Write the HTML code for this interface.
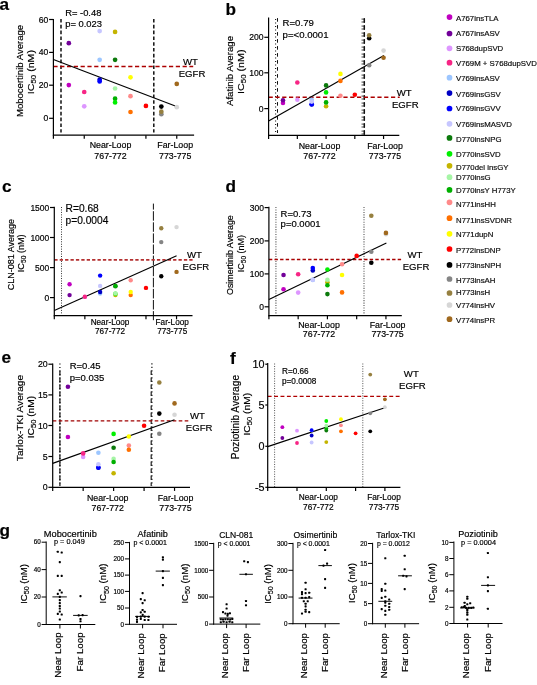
<!DOCTYPE html>
<html lang="en"><head><meta charset="utf-8"><title>Figure</title>
<style>
html,body{margin:0;padding:0;background:#fff;}
body{width:537px;height:685px;overflow:hidden;}
svg{display:block;}
svg text{font-family:"Liberation Sans",Arial,Helvetica,sans-serif;stroke:#000;stroke-width:0.18px;}
</style></head><body>
<svg width="537" height="685" viewBox="0 0 537 685">
<rect x="0" y="0" width="537" height="685" fill="#fff"/>
<g>
<line x1="61.00" y1="19.00" x2="61.00" y2="132.50" stroke="#111" stroke-width="1.5" stroke-dasharray="3.6 2.2" />
<line x1="153.80" y1="19.00" x2="153.80" y2="132.50" stroke="#111" stroke-width="1.5" stroke-dasharray="3.6 2.2" />
<line x1="53.40" y1="66.50" x2="193.20" y2="66.50" stroke="#AC0000" stroke-width="1.35" stroke-dasharray="4.2 2.6" />
<line x1="53.40" y1="59.50" x2="175.30" y2="106.00" stroke="#000" stroke-width="1.15" />
<circle cx="68.82" cy="85.10" r="2.35" fill="#C000C0"/>
<circle cx="68.82" cy="43.20" r="2.35" fill="#720099"/>
<circle cx="84.24" cy="92.00" r="2.35" fill="#F72585"/>
<circle cx="84.24" cy="106.30" r="2.35" fill="#DD96FF"/>
<circle cx="99.66" cy="31.10" r="2.35" fill="#C6C6FF"/>
<circle cx="99.66" cy="59.80" r="2.35" fill="#9CC6FF"/>
<circle cx="99.66" cy="79.70" r="2.35" fill="#0000C4"/>
<circle cx="99.66" cy="81.40" r="2.35" fill="#0000FF"/>
<circle cx="115.08" cy="31.90" r="2.35" fill="#C4B400"/>
<circle cx="115.08" cy="59.80" r="2.35" fill="#0C7A0C"/>
<circle cx="115.08" cy="88.50" r="2.35" fill="#A6F5A6"/>
<circle cx="115.08" cy="98.70" r="2.35" fill="#00B000"/>
<circle cx="115.08" cy="102.40" r="2.35" fill="#00F000"/>
<circle cx="130.50" cy="77.30" r="2.35" fill="#FFFF00"/>
<circle cx="130.50" cy="96.20" r="2.35" fill="#FF8A8A"/>
<circle cx="130.50" cy="112.00" r="2.35" fill="#FF7000"/>
<circle cx="145.92" cy="105.90" r="2.35" fill="#FF0000"/>
<circle cx="161.34" cy="114.20" r="2.35" fill="#858585"/>
<circle cx="161.34" cy="111.70" r="2.35" fill="#968040"/>
<circle cx="161.34" cy="106.60" r="2.35" fill="#000000"/>
<circle cx="176.76" cy="83.90" r="2.35" fill="#A0691E"/>
<circle cx="176.76" cy="107.20" r="2.35" fill="#D6D6D6"/>
<line x1="53.40" y1="19.00" x2="53.40" y2="135.70" stroke="#000" stroke-width="1.2" />
<line x1="52.90" y1="135.20" x2="194.10" y2="135.20" stroke="#000" stroke-width="1.2" />
<line x1="53.40" y1="135.20" x2="53.40" y2="138.80" stroke="#000" stroke-width="1.2" />
<line x1="84.24" y1="135.20" x2="84.24" y2="138.80" stroke="#000" stroke-width="1.2" />
<line x1="115.08" y1="135.20" x2="115.08" y2="138.80" stroke="#000" stroke-width="1.2" />
<line x1="145.92" y1="135.20" x2="145.92" y2="138.80" stroke="#000" stroke-width="1.2" />
<line x1="176.76" y1="135.20" x2="176.76" y2="138.80" stroke="#000" stroke-width="1.2" />
<line x1="49.10" y1="19.50" x2="53.40" y2="19.50" stroke="#000" stroke-width="1.2" />
<text x="48.40" y="22.58" font-size="8.6" text-anchor="end" fill="#000" >60</text>
<line x1="49.10" y1="52.40" x2="53.40" y2="52.40" stroke="#000" stroke-width="1.2" />
<text x="48.40" y="55.48" font-size="8.6" text-anchor="end" fill="#000" >40</text>
<line x1="49.10" y1="85.20" x2="53.40" y2="85.20" stroke="#000" stroke-width="1.2" />
<text x="48.40" y="88.28" font-size="8.6" text-anchor="end" fill="#000" >20</text>
<line x1="49.10" y1="118.30" x2="53.40" y2="118.30" stroke="#000" stroke-width="1.2" />
<text x="48.40" y="121.38" font-size="8.6" text-anchor="end" fill="#000" >0</text>
<text x="110.50" y="148.30" font-size="8.8" text-anchor="middle" fill="#000" >Near-Loop</text>
<text x="110.50" y="158.70" font-size="8.8" text-anchor="middle" fill="#000" >767-772</text>
<text x="175.20" y="148.30" font-size="8.8" text-anchor="middle" fill="#000" >Far-Loop</text>
<text x="175.20" y="158.70" font-size="8.8" text-anchor="middle" fill="#000" >773-775</text>
<text x="190.50" y="65.00" font-size="9.6" text-anchor="middle" fill="#000" >WT</text>
<text x="192.00" y="76.90" font-size="9.6" text-anchor="middle" fill="#000" >EGFR</text>
<text x="65.20" y="16.00" font-size="9.4" text-anchor="start" fill="#000" >R= -0.48</text>
<text x="65.20" y="26.60" font-size="9.4" text-anchor="start" fill="#000" >p= 0.023</text>
<text x="23.20" y="71.00" font-size="9.5" text-anchor="middle" fill="#000" textLength="92.10" lengthAdjust="spacingAndGlyphs" transform="rotate(-90 23.20 71.00)" >Mobocertinib Average</text>
<text x="33.90" y="72.10" font-size="9.5" text-anchor="middle" fill="#000" textLength="44.20" lengthAdjust="spacingAndGlyphs" transform="rotate(-90 33.90 72.10)" >IC<tspan font-size="74%" dy="2.2">50</tspan><tspan dy="-2.2"> (nM)</tspan></text>
<text x="-0.40" y="9.60" font-size="17.2" text-anchor="start" fill="#000" font-weight="bold" >a</text>
</g>
<g>
<line x1="275.60" y1="18.90" x2="275.60" y2="133.00" stroke="#111" stroke-width="1.1" stroke-dasharray="1.1 2.4" />
<line x1="277.50" y1="18.10" x2="277.50" y2="133.00" stroke="#111" stroke-width="1.0" stroke-dasharray="3.6 3.4" />
<path d="M361.90,19.10H364.30M361.90,22.00H364.30M361.90,26.10H364.30M361.90,29.00H364.30M361.90,33.10H364.30M361.90,36.00H364.30M361.90,40.10H364.30M361.90,43.00H364.30M361.90,47.10H364.30M361.90,50.00H364.30M361.90,54.10H364.30M361.90,57.00H364.30M361.90,61.10H364.30M361.90,64.00H364.30M361.90,68.10H364.30M361.90,71.00H364.30M361.90,75.10H364.30M361.90,78.00H364.30M361.90,82.10H364.30M361.90,85.00H364.30M361.90,89.10H364.30M361.90,92.00H364.30M361.90,96.10H364.30M361.90,99.00H364.30M361.90,103.10H364.30M361.90,106.00H364.30M361.90,110.10H364.30M361.90,113.00H364.30M361.90,117.10H364.30M361.90,120.00H364.30M361.90,124.10H364.30M361.90,127.00H364.30M361.90,131.10H364.30M361.90,134.00H364.30" fill="none" stroke="#333" stroke-width="0.9" stroke-linecap="round"/>
<path d="M364.30,18.80V22.30M364.30,25.80V29.30M364.30,32.80V36.30M364.30,39.80V43.30M364.30,46.80V50.30M364.30,53.80V57.30M364.30,60.80V64.30M364.30,67.80V71.30M364.30,74.80V78.30M364.30,81.80V85.30M364.30,88.80V92.30M364.30,95.80V99.30M364.30,102.80V106.30M364.30,109.80V113.30M364.30,116.80V120.30M364.30,123.80V127.30M364.30,130.80V134.30" fill="none" stroke="#111" stroke-width="1.5" stroke-linecap="round"/>
<line x1="268.60" y1="97.20" x2="399.70" y2="97.20" stroke="#AC0000" stroke-width="1.35" stroke-dasharray="4.2 2.6" />
<line x1="268.60" y1="121.10" x2="383.90" y2="55.50" stroke="#000" stroke-width="1.15" />
<circle cx="282.97" cy="103.00" r="2.3" fill="#C000C0"/>
<circle cx="282.97" cy="100.20" r="2.3" fill="#720099"/>
<circle cx="297.34" cy="82.50" r="2.3" fill="#F72585"/>
<circle cx="297.34" cy="99.80" r="2.3" fill="#DD96FF"/>
<circle cx="311.71" cy="104.50" r="2.3" fill="#0000C4"/>
<circle cx="311.71" cy="104.30" r="2.3" fill="#0000FF"/>
<circle cx="311.71" cy="99.80" r="2.3" fill="#9CC6FF"/>
<circle cx="311.71" cy="101.60" r="2.3" fill="#C6C6FF"/>
<circle cx="326.08" cy="106.30" r="2.3" fill="#C4B400"/>
<circle cx="326.08" cy="102.60" r="2.3" fill="#A6F5A6"/>
<circle cx="326.08" cy="102.40" r="2.3" fill="#00B000"/>
<circle cx="326.08" cy="92.40" r="2.3" fill="#00F000"/>
<circle cx="326.08" cy="85.40" r="2.3" fill="#0C7A0C"/>
<circle cx="340.45" cy="73.90" r="2.3" fill="#FFFF00"/>
<circle cx="340.45" cy="80.90" r="2.3" fill="#FF7000"/>
<circle cx="340.45" cy="95.70" r="2.3" fill="#FF8A8A"/>
<circle cx="354.82" cy="94.80" r="2.3" fill="#FF0000"/>
<circle cx="369.19" cy="38.20" r="2.3" fill="#000000"/>
<circle cx="369.19" cy="35.30" r="2.3" fill="#968040"/>
<circle cx="369.19" cy="65.30" r="2.3" fill="#858585"/>
<circle cx="383.56" cy="50.60" r="2.3" fill="#D6D6D6"/>
<circle cx="383.56" cy="57.70" r="2.3" fill="#A0691E"/>
<line x1="268.60" y1="17.50" x2="268.60" y2="135.90" stroke="#000" stroke-width="1.2" />
<line x1="268.10" y1="135.40" x2="399.30" y2="135.40" stroke="#000" stroke-width="1.2" />
<line x1="268.60" y1="135.40" x2="268.60" y2="139.00" stroke="#000" stroke-width="1.2" />
<line x1="297.34" y1="135.40" x2="297.34" y2="139.00" stroke="#000" stroke-width="1.2" />
<line x1="326.08" y1="135.40" x2="326.08" y2="139.00" stroke="#000" stroke-width="1.2" />
<line x1="354.82" y1="135.40" x2="354.82" y2="139.00" stroke="#000" stroke-width="1.2" />
<line x1="383.56" y1="135.40" x2="383.56" y2="139.00" stroke="#000" stroke-width="1.2" />
<line x1="264.30" y1="37.30" x2="268.60" y2="37.30" stroke="#000" stroke-width="1.2" />
<text x="263.60" y="40.38" font-size="8.6" text-anchor="end" fill="#000" >200</text>
<line x1="264.30" y1="72.80" x2="268.60" y2="72.80" stroke="#000" stroke-width="1.2" />
<text x="263.60" y="75.88" font-size="8.6" text-anchor="end" fill="#000" >100</text>
<line x1="264.30" y1="108.60" x2="268.60" y2="108.60" stroke="#000" stroke-width="1.2" />
<text x="263.60" y="111.68" font-size="8.6" text-anchor="end" fill="#000" >0</text>
<text x="319.50" y="149.30" font-size="8.8" text-anchor="middle" fill="#000" >Near-Loop</text>
<text x="319.50" y="158.70" font-size="8.8" text-anchor="middle" fill="#000" >767-772</text>
<text x="385.00" y="149.30" font-size="8.8" text-anchor="middle" fill="#000" >Far-Loop</text>
<text x="385.00" y="158.70" font-size="8.8" text-anchor="middle" fill="#000" >773-775</text>
<text x="404.10" y="95.60" font-size="9.6" text-anchor="middle" fill="#000" >WT</text>
<text x="405.30" y="107.90" font-size="9.6" text-anchor="middle" fill="#000" >EGFR</text>
<text x="282.60" y="26.20" font-size="9.6" text-anchor="start" fill="#000" >R=0.79</text>
<text x="282.60" y="37.90" font-size="9.6" text-anchor="start" fill="#000" >p=&lt;0.0001</text>
<text x="233.40" y="71.00" font-size="9.5" text-anchor="middle" fill="#000" textLength="70.00" lengthAdjust="spacingAndGlyphs" transform="rotate(-90 233.40 71.00)" >Afatinib Average</text>
<text x="244.00" y="71.70" font-size="9.5" text-anchor="middle" fill="#000" textLength="44.40" lengthAdjust="spacingAndGlyphs" transform="rotate(-90 244.00 71.70)" >IC<tspan font-size="74%" dy="2.2">50</tspan><tspan dy="-2.2"> (nM)</tspan></text>
<text x="225.60" y="15.40" font-size="17.2" text-anchor="start" fill="#000" font-weight="bold" >b</text>
</g>
<g>
<line x1="61.50" y1="207.00" x2="61.50" y2="314.00" stroke="#333" stroke-width="1.0" stroke-dasharray="1 1.45" />
<line x1="153.40" y1="203.60" x2="153.40" y2="320.20" stroke="#111" stroke-width="1.0" stroke-dasharray="9.5 1.6" stroke-dashoffset="3.5"/>
<line x1="54.30" y1="259.80" x2="193.00" y2="259.80" stroke="#B43030" stroke-width="1.8" stroke-dasharray="3.3 2.1" />
<line x1="54.30" y1="310.50" x2="176.60" y2="255.80" stroke="#000" stroke-width="1.15" />
<circle cx="69.58" cy="284.20" r="2.2" fill="#C000C0"/>
<circle cx="69.58" cy="295.10" r="2.2" fill="#720099"/>
<circle cx="84.86" cy="296.90" r="2.2" fill="#DD96FF"/>
<circle cx="84.86" cy="296.70" r="2.2" fill="#F72585"/>
<circle cx="100.14" cy="275.60" r="2.2" fill="#0000FF"/>
<circle cx="100.14" cy="285.90" r="2.2" fill="#C6C6FF"/>
<circle cx="100.14" cy="293.60" r="2.2" fill="#9CC6FF"/>
<circle cx="100.14" cy="292.00" r="2.2" fill="#0000C4"/>
<circle cx="115.42" cy="286.20" r="2.2" fill="#0C7A0C"/>
<circle cx="115.42" cy="285.90" r="2.2" fill="#00B000"/>
<circle cx="115.42" cy="295.10" r="2.2" fill="#C4B400"/>
<circle cx="115.42" cy="293.80" r="2.2" fill="#00F000"/>
<circle cx="115.42" cy="293.40" r="2.2" fill="#A6F5A6"/>
<circle cx="130.70" cy="280.30" r="2.2" fill="#FF8A8A"/>
<circle cx="130.70" cy="295.10" r="2.2" fill="#FF7000"/>
<circle cx="130.70" cy="292.00" r="2.2" fill="#FFFF00"/>
<circle cx="145.98" cy="287.90" r="2.2" fill="#FF0000"/>
<circle cx="161.26" cy="228.20" r="2.2" fill="#968040"/>
<circle cx="161.26" cy="242.10" r="2.2" fill="#858585"/>
<circle cx="161.26" cy="276.20" r="2.2" fill="#000000"/>
<circle cx="176.54" cy="227.10" r="2.2" fill="#D6D6D6"/>
<circle cx="176.54" cy="271.90" r="2.2" fill="#A0691E"/>
<line x1="54.30" y1="206.80" x2="54.30" y2="316.20" stroke="#000" stroke-width="1.2" />
<line x1="53.80" y1="315.70" x2="192.50" y2="315.70" stroke="#000" stroke-width="1.2" />
<line x1="54.30" y1="315.70" x2="54.30" y2="319.30" stroke="#000" stroke-width="1.2" />
<line x1="84.86" y1="315.70" x2="84.86" y2="319.30" stroke="#000" stroke-width="1.2" />
<line x1="115.42" y1="315.70" x2="115.42" y2="319.30" stroke="#000" stroke-width="1.2" />
<line x1="145.98" y1="315.70" x2="145.98" y2="319.30" stroke="#000" stroke-width="1.2" />
<line x1="176.54" y1="315.70" x2="176.54" y2="319.30" stroke="#000" stroke-width="1.2" />
<line x1="50.00" y1="207.50" x2="54.30" y2="207.50" stroke="#000" stroke-width="1.2" />
<text x="49.30" y="210.54" font-size="8.5" text-anchor="end" fill="#000" >1500</text>
<line x1="50.00" y1="237.50" x2="54.30" y2="237.50" stroke="#000" stroke-width="1.2" />
<text x="49.30" y="240.54" font-size="8.5" text-anchor="end" fill="#000" >1000</text>
<line x1="50.00" y1="267.60" x2="54.30" y2="267.60" stroke="#000" stroke-width="1.2" />
<text x="49.30" y="270.64" font-size="8.5" text-anchor="end" fill="#000" >500</text>
<line x1="50.00" y1="297.60" x2="54.30" y2="297.60" stroke="#000" stroke-width="1.2" />
<text x="49.30" y="300.64" font-size="8.5" text-anchor="end" fill="#000" >0</text>
<text x="110.00" y="325.20" font-size="8.2" text-anchor="middle" fill="#000" >Near-Loop</text>
<text x="110.00" y="334.20" font-size="8.2" text-anchor="middle" fill="#000" >767-772</text>
<text x="172.20" y="325.20" font-size="8.2" text-anchor="middle" fill="#000" >Far-Loop</text>
<text x="172.20" y="334.20" font-size="8.2" text-anchor="middle" fill="#000" >773-775</text>
<text x="194.50" y="258.40" font-size="9.6" text-anchor="middle" fill="#000" >WT</text>
<text x="195.90" y="270.30" font-size="9.6" text-anchor="middle" fill="#000" >EGFR</text>
<text x="65.60" y="212.00" font-size="10.2" text-anchor="start" fill="#000" >R=0.68</text>
<text x="65.60" y="224.30" font-size="10.2" text-anchor="start" fill="#000" >p=0.0004</text>
<text x="14.00" y="254.60" font-size="8.9" text-anchor="middle" fill="#000" textLength="71.30" lengthAdjust="spacingAndGlyphs" transform="rotate(-90 14.00 254.60)" >CLN-081 Average</text>
<text x="24.00" y="253.30" font-size="8.6" text-anchor="middle" fill="#000" textLength="37.70" lengthAdjust="spacingAndGlyphs" transform="rotate(-90 24.00 253.30)" >IC<tspan font-size="74%" dy="2.2">50</tspan><tspan dy="-2.2"> (nM)</tspan></text>
<text x="2.00" y="191.50" font-size="17.2" text-anchor="start" fill="#000" font-weight="bold" >c</text>
</g>
<g>
<line x1="275.90" y1="207.00" x2="275.90" y2="314.00" stroke="#8a8a8a" stroke-width="1.6" stroke-dasharray="1.1 1.35" />
<line x1="364.00" y1="207.00" x2="364.00" y2="314.00" stroke="#8a8a8a" stroke-width="1.6" stroke-dasharray="1.1 1.35" />
<line x1="268.90" y1="259.50" x2="401.80" y2="259.50" stroke="#A80000" stroke-width="1.3" stroke-dasharray="3.4 2.2" />
<line x1="268.90" y1="299.60" x2="386.40" y2="242.90" stroke="#000" stroke-width="1.15" />
<circle cx="283.53" cy="275.00" r="2.3" fill="#720099"/>
<circle cx="283.53" cy="289.30" r="2.3" fill="#C000C0"/>
<circle cx="298.16" cy="274.20" r="2.3" fill="#F72585"/>
<circle cx="298.16" cy="292.60" r="2.3" fill="#DD96FF"/>
<circle cx="312.79" cy="279.90" r="2.3" fill="#9CC6FF"/>
<circle cx="312.79" cy="279.70" r="2.3" fill="#C6C6FF"/>
<circle cx="312.79" cy="270.50" r="2.3" fill="#0000C4"/>
<circle cx="312.79" cy="268.00" r="2.3" fill="#0000FF"/>
<circle cx="327.42" cy="294.10" r="2.3" fill="#0C7A0C"/>
<circle cx="327.42" cy="282.20" r="2.3" fill="#C4B400"/>
<circle cx="327.42" cy="285.20" r="2.3" fill="#00B000"/>
<circle cx="327.42" cy="279.70" r="2.3" fill="#A6F5A6"/>
<circle cx="327.42" cy="269.50" r="2.3" fill="#00F000"/>
<circle cx="342.05" cy="264.30" r="2.3" fill="#FF8A8A"/>
<circle cx="342.05" cy="275.00" r="2.3" fill="#FFFF00"/>
<circle cx="342.05" cy="292.40" r="2.3" fill="#FF7000"/>
<circle cx="356.68" cy="255.90" r="2.3" fill="#FF0000"/>
<circle cx="371.31" cy="215.70" r="2.3" fill="#968040"/>
<circle cx="371.31" cy="251.70" r="2.3" fill="#858585"/>
<circle cx="371.31" cy="262.80" r="2.3" fill="#000000"/>
<circle cx="385.94" cy="234.30" r="2.3" fill="#D6D6D6"/>
<circle cx="385.94" cy="232.90" r="2.3" fill="#A0691E"/>
<line x1="268.90" y1="206.80" x2="268.90" y2="316.20" stroke="#000" stroke-width="1.2" />
<line x1="268.40" y1="315.70" x2="401.80" y2="315.70" stroke="#000" stroke-width="1.2" />
<line x1="268.90" y1="315.70" x2="268.90" y2="319.30" stroke="#000" stroke-width="1.2" />
<line x1="298.16" y1="315.70" x2="298.16" y2="319.30" stroke="#000" stroke-width="1.2" />
<line x1="327.42" y1="315.70" x2="327.42" y2="319.30" stroke="#000" stroke-width="1.2" />
<line x1="356.68" y1="315.70" x2="356.68" y2="319.30" stroke="#000" stroke-width="1.2" />
<line x1="385.94" y1="315.70" x2="385.94" y2="319.30" stroke="#000" stroke-width="1.2" />
<line x1="264.60" y1="207.60" x2="268.90" y2="207.60" stroke="#000" stroke-width="1.2" />
<text x="263.90" y="210.64" font-size="8.5" text-anchor="end" fill="#000" >300</text>
<line x1="264.60" y1="240.90" x2="268.90" y2="240.90" stroke="#000" stroke-width="1.2" />
<text x="263.90" y="243.94" font-size="8.5" text-anchor="end" fill="#000" >200</text>
<line x1="264.60" y1="273.90" x2="268.90" y2="273.90" stroke="#000" stroke-width="1.2" />
<text x="263.90" y="276.94" font-size="8.5" text-anchor="end" fill="#000" >100</text>
<line x1="264.60" y1="306.80" x2="268.90" y2="306.80" stroke="#000" stroke-width="1.2" />
<text x="263.90" y="309.84" font-size="8.5" text-anchor="end" fill="#000" >0</text>
<text x="319.00" y="327.90" font-size="8.8" text-anchor="middle" fill="#000" >Near-Loop</text>
<text x="319.00" y="337.30" font-size="8.8" text-anchor="middle" fill="#000" >767-772</text>
<text x="387.60" y="327.90" font-size="8.8" text-anchor="middle" fill="#000" >Far-Loop</text>
<text x="387.60" y="337.30" font-size="8.8" text-anchor="middle" fill="#000" >773-775</text>
<text x="415.00" y="257.50" font-size="9.6" text-anchor="middle" fill="#000" >WT</text>
<text x="416.00" y="269.80" font-size="9.6" text-anchor="middle" fill="#000" >EGFR</text>
<text x="280.60" y="216.70" font-size="9.5" text-anchor="start" fill="#000" >R=0.73</text>
<text x="280.60" y="227.40" font-size="9.5" text-anchor="start" fill="#000" >p=0.0001</text>
<text x="233.30" y="255.10" font-size="8.8" text-anchor="middle" fill="#000" textLength="79.80" lengthAdjust="spacingAndGlyphs" transform="rotate(-90 233.30 255.10)" >Osimertinib Average</text>
<text x="244.00" y="253.60" font-size="8.6" text-anchor="middle" fill="#000" textLength="37.20" lengthAdjust="spacingAndGlyphs" transform="rotate(-90 244.00 253.60)" >IC<tspan font-size="74%" dy="2.2">50</tspan><tspan dy="-2.2"> (nM)</tspan></text>
<text x="225.50" y="192.10" font-size="17.2" text-anchor="start" fill="#000" font-weight="bold" >d</text>
</g>
<g>
<line x1="59.90" y1="370.50" x2="59.90" y2="486.00" stroke="#222" stroke-width="1.3" stroke-dasharray="5.2 1.8" />
<line x1="59.90" y1="363.40" x2="59.90" y2="486.00" stroke="#111" stroke-width="1.3" stroke-dasharray="1 2.5" />
<line x1="151.20" y1="370.50" x2="151.20" y2="486.00" stroke="#222" stroke-width="1.2" stroke-dasharray="4.6 2.4" />
<line x1="151.90" y1="363.30" x2="151.90" y2="486.00" stroke="#111" stroke-width="1.2" stroke-dasharray="1.1 2.4" />
<line x1="52.70" y1="420.90" x2="190.70" y2="420.90" stroke="#A00000" stroke-width="1.4" stroke-dasharray="3.6 2.4" />
<line x1="52.70" y1="463.40" x2="174.50" y2="419.80" stroke="#000" stroke-width="1.15" />
<circle cx="67.93" cy="386.70" r="2.3" fill="#720099"/>
<circle cx="67.93" cy="437.00" r="2.3" fill="#C000C0"/>
<circle cx="83.16" cy="456.90" r="2.3" fill="#DD96FF"/>
<circle cx="83.16" cy="453.40" r="2.3" fill="#F72585"/>
<circle cx="98.39" cy="452.80" r="2.3" fill="#9CC6FF"/>
<circle cx="98.39" cy="467.70" r="2.3" fill="#0000C4"/>
<circle cx="98.39" cy="467.50" r="2.3" fill="#0000FF"/>
<circle cx="98.39" cy="464.30" r="2.3" fill="#C6C6FF"/>
<circle cx="113.62" cy="433.90" r="2.3" fill="#00F000"/>
<circle cx="113.62" cy="447.70" r="2.3" fill="#0C7A0C"/>
<circle cx="113.62" cy="458.90" r="2.3" fill="#A6F5A6"/>
<circle cx="113.62" cy="462.00" r="2.3" fill="#00B000"/>
<circle cx="113.62" cy="473.30" r="2.3" fill="#C4B400"/>
<circle cx="128.85" cy="436.50" r="2.3" fill="#FFFF00"/>
<circle cx="128.85" cy="445.60" r="2.3" fill="#FF8A8A"/>
<circle cx="128.85" cy="449.70" r="2.3" fill="#FF7000"/>
<circle cx="144.08" cy="425.80" r="2.3" fill="#FF0000"/>
<circle cx="159.31" cy="382.50" r="2.3" fill="#968040"/>
<circle cx="159.31" cy="413.60" r="2.3" fill="#000000"/>
<circle cx="159.31" cy="433.70" r="2.3" fill="#858585"/>
<circle cx="174.54" cy="403.40" r="2.3" fill="#A0691E"/>
<circle cx="174.54" cy="414.70" r="2.3" fill="#D6D6D6"/>
<line x1="52.70" y1="363.50" x2="52.70" y2="487.80" stroke="#000" stroke-width="1.2" />
<line x1="52.20" y1="487.30" x2="190.00" y2="487.30" stroke="#000" stroke-width="1.2" />
<line x1="52.70" y1="487.30" x2="52.70" y2="490.90" stroke="#000" stroke-width="1.2" />
<line x1="83.16" y1="487.30" x2="83.16" y2="490.90" stroke="#000" stroke-width="1.2" />
<line x1="113.62" y1="487.30" x2="113.62" y2="490.90" stroke="#000" stroke-width="1.2" />
<line x1="144.08" y1="487.30" x2="144.08" y2="490.90" stroke="#000" stroke-width="1.2" />
<line x1="174.54" y1="487.30" x2="174.54" y2="490.90" stroke="#000" stroke-width="1.2" />
<line x1="48.40" y1="364.20" x2="52.70" y2="364.20" stroke="#000" stroke-width="1.2" />
<text x="47.70" y="367.35" font-size="8.8" text-anchor="end" fill="#000" >20</text>
<line x1="48.40" y1="394.90" x2="52.70" y2="394.90" stroke="#000" stroke-width="1.2" />
<text x="47.70" y="398.05" font-size="8.8" text-anchor="end" fill="#000" >15</text>
<line x1="48.40" y1="425.50" x2="52.70" y2="425.50" stroke="#000" stroke-width="1.2" />
<text x="47.70" y="428.65" font-size="8.8" text-anchor="end" fill="#000" >10</text>
<line x1="48.40" y1="456.50" x2="52.70" y2="456.50" stroke="#000" stroke-width="1.2" />
<text x="47.70" y="459.65" font-size="8.8" text-anchor="end" fill="#000" >5</text>
<line x1="48.40" y1="487.30" x2="52.70" y2="487.30" stroke="#000" stroke-width="1.2" />
<text x="47.70" y="490.45" font-size="8.8" text-anchor="end" fill="#000" >0</text>
<text x="107.70" y="501.00" font-size="8.8" text-anchor="middle" fill="#000" >Near-Loop</text>
<text x="107.70" y="510.60" font-size="8.8" text-anchor="middle" fill="#000" >767-772</text>
<text x="175.50" y="501.00" font-size="8.8" text-anchor="middle" fill="#000" >Far-Loop</text>
<text x="175.50" y="510.60" font-size="8.8" text-anchor="middle" fill="#000" >773-775</text>
<text x="197.50" y="419.20" font-size="9.6" text-anchor="middle" fill="#000" >WT</text>
<text x="199.10" y="431.00" font-size="9.6" text-anchor="middle" fill="#000" >EGFR</text>
<text x="69.70" y="369.30" font-size="9.5" text-anchor="start" fill="#000" >R=0.45</text>
<text x="69.70" y="381.00" font-size="9.5" text-anchor="start" fill="#000" >p=0.035</text>
<text x="22.90" y="418.00" font-size="9.9" text-anchor="middle" fill="#000" textLength="86.30" lengthAdjust="spacingAndGlyphs" transform="rotate(-90 22.90 418.00)" >Tarlox-TKI Average</text>
<text x="34.30" y="417.00" font-size="9.5" text-anchor="middle" fill="#000" textLength="42.50" lengthAdjust="spacingAndGlyphs" transform="rotate(-90 34.30 417.00)" >IC<tspan font-size="74%" dy="2.2">50</tspan><tspan dy="-2.2"> (nM)</tspan></text>
<text x="1.60" y="362.70" font-size="17.2" text-anchor="start" fill="#000" font-weight="bold" >e</text>
</g>
<g>
<line x1="274.60" y1="363.50" x2="274.60" y2="487.00" stroke="#333" stroke-width="0.85" stroke-dasharray="1 1.45" />
<line x1="362.80" y1="363.50" x2="362.80" y2="487.00" stroke="#333" stroke-width="0.85" stroke-dasharray="1 1.45" />
<line x1="267.70" y1="396.30" x2="399.70" y2="396.30" stroke="#B00000" stroke-width="1.25" stroke-dasharray="3.9 2.5" />
<line x1="267.70" y1="446.60" x2="384.80" y2="407.70" stroke="#000" stroke-width="1.15" />
<circle cx="282.35" cy="427.20" r="1.9" fill="#C000C0"/>
<circle cx="282.35" cy="438.00" r="1.9" fill="#720099"/>
<circle cx="297.00" cy="430.70" r="1.9" fill="#DD96FF"/>
<circle cx="297.00" cy="443.00" r="1.9" fill="#F72585"/>
<circle cx="311.65" cy="430.40" r="1.9" fill="#9CC6FF"/>
<circle cx="311.65" cy="430.20" r="1.9" fill="#0000FF"/>
<circle cx="311.65" cy="435.50" r="1.9" fill="#0000C4"/>
<circle cx="311.65" cy="442.50" r="1.9" fill="#C6C6FF"/>
<circle cx="326.30" cy="442.10" r="1.9" fill="#C4B400"/>
<circle cx="326.30" cy="430.50" r="1.9" fill="#0C7A0C"/>
<circle cx="326.30" cy="428.40" r="1.9" fill="#00B000"/>
<circle cx="326.30" cy="425.70" r="1.9" fill="#A6F5A6"/>
<circle cx="326.30" cy="421.00" r="1.9" fill="#00F000"/>
<circle cx="340.95" cy="419.20" r="1.9" fill="#FFFF00"/>
<circle cx="340.95" cy="425.30" r="1.9" fill="#FF8A8A"/>
<circle cx="340.95" cy="431.30" r="1.9" fill="#FF7000"/>
<circle cx="355.60" cy="433.30" r="1.9" fill="#FF0000"/>
<circle cx="370.25" cy="374.60" r="1.9" fill="#968040"/>
<circle cx="370.25" cy="413.30" r="1.9" fill="#858585"/>
<circle cx="370.25" cy="431.30" r="1.9" fill="#000000"/>
<circle cx="384.90" cy="399.30" r="1.9" fill="#A0691E"/>
<circle cx="384.90" cy="407.20" r="1.9" fill="#D6D6D6"/>
<line x1="267.70" y1="363.00" x2="267.70" y2="487.80" stroke="#000" stroke-width="1.2" />
<line x1="267.20" y1="487.30" x2="400.40" y2="487.30" stroke="#000" stroke-width="1.2" />
<line x1="267.70" y1="487.30" x2="267.70" y2="490.90" stroke="#000" stroke-width="1.2" />
<line x1="297.00" y1="487.30" x2="297.00" y2="490.90" stroke="#000" stroke-width="1.2" />
<line x1="326.30" y1="487.30" x2="326.30" y2="490.90" stroke="#000" stroke-width="1.2" />
<line x1="355.60" y1="487.30" x2="355.60" y2="490.90" stroke="#000" stroke-width="1.2" />
<line x1="384.90" y1="487.30" x2="384.90" y2="490.90" stroke="#000" stroke-width="1.2" />
<line x1="265.30" y1="364.20" x2="267.70" y2="364.20" stroke="#000" stroke-width="1.2" />
<text x="264.50" y="368.07" font-size="10.8" text-anchor="end" fill="#000" >10</text>
<line x1="265.30" y1="405.00" x2="267.70" y2="405.00" stroke="#000" stroke-width="1.2" />
<text x="264.50" y="408.87" font-size="10.8" text-anchor="end" fill="#000" >5</text>
<line x1="265.30" y1="446.30" x2="267.70" y2="446.30" stroke="#000" stroke-width="1.2" />
<text x="264.50" y="450.17" font-size="10.8" text-anchor="end" fill="#000" >0</text>
<line x1="265.30" y1="487.30" x2="267.70" y2="487.30" stroke="#000" stroke-width="1.2" />
<text x="264.50" y="491.17" font-size="10.8" text-anchor="end" fill="#000" >-5</text>
<text x="318.30" y="500.40" font-size="8.3" text-anchor="middle" fill="#000" >Near-Loop</text>
<text x="318.30" y="509.80" font-size="8.3" text-anchor="middle" fill="#000" >767-772</text>
<text x="384.00" y="500.40" font-size="8.3" text-anchor="middle" fill="#000" >Far-Loop</text>
<text x="384.00" y="509.80" font-size="8.3" text-anchor="middle" fill="#000" >773-775</text>
<text x="411.30" y="376.90" font-size="9.6" text-anchor="middle" fill="#000" >WT</text>
<text x="412.40" y="389.20" font-size="9.6" text-anchor="middle" fill="#000" >EGFR</text>
<text x="282.00" y="373.80" font-size="8.2" text-anchor="start" fill="#000" >R=0.66</text>
<text x="282.00" y="383.60" font-size="8.2" text-anchor="start" fill="#000" >p=0.0008</text>
<text x="239.00" y="417.00" font-size="10" text-anchor="middle" fill="#000" textLength="84.30" lengthAdjust="spacingAndGlyphs" transform="rotate(-90 239.00 417.00)" >Poziotinib Average</text>
<text x="249.90" y="414.20" font-size="9.5" text-anchor="middle" fill="#000" textLength="42.80" lengthAdjust="spacingAndGlyphs" transform="rotate(-90 249.90 414.20)" >IC<tspan font-size="74%" dy="2.2">50</tspan><tspan dy="-2.2"> (nM)</tspan></text>
<text x="230.00" y="363.60" font-size="17.2" text-anchor="start" fill="#000" font-weight="bold" >f</text>
</g>
<g>
<circle cx="449.50" cy="17.10" r="2.85" fill="#C000C0"/>
<text x="456.00" y="20.70" font-size="7.8" text-anchor="start" fill="#111" >A767insTLA</text>
<circle cx="449.50" cy="33.50" r="2.85" fill="#720099"/>
<text x="456.00" y="36.00" font-size="7.8" text-anchor="start" fill="#111" >A767insASV</text>
<circle cx="449.50" cy="48.30" r="2.85" fill="#DD96FF"/>
<text x="456.00" y="51.20" font-size="7.8" text-anchor="start" fill="#111" >S768dupSVD</text>
<circle cx="449.50" cy="62.70" r="2.85" fill="#F72585"/>
<text x="456.00" y="65.90" font-size="7.8" text-anchor="start" fill="#111" >V769M + S768dupSVD</text>
<circle cx="449.50" cy="77.70" r="2.85" fill="#9CC6FF"/>
<text x="456.00" y="81.20" font-size="7.8" text-anchor="start" fill="#111" >V769insASV</text>
<circle cx="449.50" cy="93.10" r="2.85" fill="#0000C4"/>
<text x="456.00" y="96.60" font-size="7.8" text-anchor="start" fill="#111" >V769insGSV</text>
<circle cx="449.50" cy="108.50" r="2.85" fill="#0000FF"/>
<text x="456.00" y="111.40" font-size="7.8" text-anchor="start" fill="#111" >V769insGVV</text>
<circle cx="449.50" cy="123.80" r="2.85" fill="#C6C6FF"/>
<text x="456.00" y="126.70" font-size="7.8" text-anchor="start" fill="#111" >V769insMASVD</text>
<circle cx="449.50" cy="137.90" r="2.85" fill="#0C7A0C"/>
<text x="456.00" y="141.70" font-size="7.8" text-anchor="start" fill="#111" >D770insNPG</text>
<circle cx="449.50" cy="153.80" r="2.85" fill="#00F000"/>
<text x="456.00" y="157.20" font-size="7.8" text-anchor="start" fill="#111" >D770insSVD</text>
<circle cx="449.50" cy="165.80" r="2.85" fill="#C4B400"/>
<text x="456.00" y="169.60" font-size="7.8" text-anchor="start" fill="#111" >D770del insGY</text>
<circle cx="449.50" cy="177.20" r="2.85" fill="#A6F5A6"/>
<text x="456.00" y="180.00" font-size="7.8" text-anchor="start" fill="#111" >D770insG</text>
<circle cx="449.50" cy="189.90" r="2.85" fill="#00B000"/>
<text x="456.00" y="192.70" font-size="7.8" text-anchor="start" fill="#111" >D770insY H773Y</text>
<circle cx="449.50" cy="202.30" r="2.85" fill="#FF8A8A"/>
<text x="456.00" y="206.80" font-size="7.8" text-anchor="start" fill="#111" >N771insHH</text>
<circle cx="449.50" cy="218.20" r="2.85" fill="#FF7000"/>
<text x="456.00" y="222.50" font-size="7.8" text-anchor="start" fill="#111" >N771insSVDNR</text>
<circle cx="449.50" cy="233.80" r="2.85" fill="#FFFF00"/>
<text x="456.00" y="237.40" font-size="7.8" text-anchor="start" fill="#111" >N771dupN</text>
<circle cx="449.50" cy="249.00" r="2.85" fill="#FF0000"/>
<text x="456.00" y="252.80" font-size="7.8" text-anchor="start" fill="#111" >P772insDNP</text>
<circle cx="449.50" cy="264.90" r="2.85" fill="#000000"/>
<text x="456.00" y="267.70" font-size="7.8" text-anchor="start" fill="#111" >H773insNPH</text>
<circle cx="449.50" cy="279.00" r="2.85" fill="#858585"/>
<text x="456.00" y="282.70" font-size="7.8" text-anchor="start" fill="#111" >H773insAH</text>
<circle cx="449.50" cy="293.00" r="2.85" fill="#968040"/>
<text x="456.00" y="295.30" font-size="7.8" text-anchor="start" fill="#111" >H773insH</text>
<circle cx="449.50" cy="305.00" r="2.85" fill="#D6D6D6"/>
<text x="456.00" y="308.40" font-size="7.8" text-anchor="start" fill="#111" >V774insHV</text>
<circle cx="449.50" cy="319.20" r="2.85" fill="#A0691E"/>
<text x="456.00" y="323.10" font-size="7.8" text-anchor="start" fill="#111" >V774insPR</text>
</g>
<g>
<rect x="56.75" y="550.75" width="2.1" height="2.1" rx="0.6" fill="#000"/>
<rect x="60.65" y="551.45" width="2.1" height="2.1" rx="0.6" fill="#000"/>
<rect x="58.75" y="561.05" width="2.1" height="2.1" rx="0.6" fill="#000"/>
<rect x="56.75" y="574.85" width="2.1" height="2.1" rx="0.6" fill="#000"/>
<rect x="60.65" y="574.85" width="2.1" height="2.1" rx="0.6" fill="#000"/>
<rect x="58.75" y="589.25" width="2.1" height="2.1" rx="0.6" fill="#000"/>
<rect x="56.75" y="592.85" width="2.1" height="2.1" rx="0.6" fill="#000"/>
<rect x="60.65" y="591.45" width="2.1" height="2.1" rx="0.6" fill="#000"/>
<rect x="58.75" y="595.85" width="2.1" height="2.1" rx="0.6" fill="#000"/>
<rect x="58.75" y="599.05" width="2.1" height="2.1" rx="0.6" fill="#000"/>
<rect x="58.75" y="602.05" width="2.1" height="2.1" rx="0.6" fill="#000"/>
<rect x="58.75" y="604.95" width="2.1" height="2.1" rx="0.6" fill="#000"/>
<rect x="58.75" y="607.45" width="2.1" height="2.1" rx="0.6" fill="#000"/>
<rect x="58.75" y="610.45" width="2.1" height="2.1" rx="0.6" fill="#000"/>
<rect x="56.75" y="612.85" width="2.1" height="2.1" rx="0.6" fill="#000"/>
<rect x="60.65" y="613.45" width="2.1" height="2.1" rx="0.6" fill="#000"/>
<rect x="58.75" y="618.45" width="2.1" height="2.1" rx="0.6" fill="#000"/>
<rect x="79.45" y="595.05" width="2.1" height="2.1" rx="0.6" fill="#000"/>
<rect x="77.65" y="614.35" width="2.1" height="2.1" rx="0.6" fill="#000"/>
<rect x="81.55" y="614.05" width="2.1" height="2.1" rx="0.6" fill="#000"/>
<rect x="79.45" y="617.95" width="2.1" height="2.1" rx="0.6" fill="#000"/>
<rect x="79.45" y="620.15" width="2.1" height="2.1" rx="0.6" fill="#000"/>
<line x1="52.40" y1="596.90" x2="66.80" y2="596.90" stroke="#000" stroke-width="0.95" />
<line x1="73.10" y1="615.40" x2="87.70" y2="615.40" stroke="#000" stroke-width="0.95" />
<line x1="46.20" y1="541.50" x2="46.20" y2="625.00" stroke="#000" stroke-width="1" />
<line x1="45.70" y1="624.50" x2="95.30" y2="624.50" stroke="#000" stroke-width="1" />
<line x1="59.90" y1="624.50" x2="59.90" y2="628.50" stroke="#000" stroke-width="1" />
<line x1="80.40" y1="624.50" x2="80.40" y2="628.50" stroke="#000" stroke-width="1" />
<line x1="41.60" y1="542.20" x2="46.20" y2="542.20" stroke="#000" stroke-width="1" />
<text x="40.80" y="544.45" font-size="6.3" text-anchor="end" fill="#000" >60</text>
<line x1="41.60" y1="569.60" x2="46.20" y2="569.60" stroke="#000" stroke-width="1" />
<text x="40.80" y="571.85" font-size="6.3" text-anchor="end" fill="#000" >40</text>
<line x1="41.60" y1="597.00" x2="46.20" y2="597.00" stroke="#000" stroke-width="1" />
<text x="40.80" y="599.25" font-size="6.3" text-anchor="end" fill="#000" >20</text>
<line x1="41.60" y1="624.50" x2="46.20" y2="624.50" stroke="#000" stroke-width="1" />
<text x="40.80" y="626.75" font-size="6.3" text-anchor="end" fill="#000" >0</text>
<text x="70.30" y="537.00" font-size="9.2" text-anchor="middle" fill="#000" textLength="53.00" lengthAdjust="spacingAndGlyphs" >Mobocertinib</text>
<text x="54.00" y="544.40" font-size="7.3" text-anchor="start" fill="#000" textLength="30.70" lengthAdjust="spacingAndGlyphs" >p = 0.049</text>
<text x="61.20" y="632.40" font-size="9.7" text-anchor="end" fill="#000" textLength="45.30" lengthAdjust="spacingAndGlyphs" transform="rotate(-90 61.20 632.40)" >Near Loop</text>
<text x="83.00" y="632.40" font-size="9.7" text-anchor="end" fill="#000" textLength="39.00" lengthAdjust="spacingAndGlyphs" transform="rotate(-90 83.00 632.40)" >Far Loop</text>
<text x="26.90" y="583.90" font-size="9.6" text-anchor="middle" fill="#000" transform="rotate(-90 26.90 583.90)" >IC<tspan font-size="74%" dy="2.2">50</tspan><tspan dy="-2.2"> (nM)</tspan></text>
</g>
<g>
<rect x="141.55" y="592.05" width="2.1" height="2.1" rx="0.6" fill="#000"/>
<rect x="139.75" y="598.05" width="2.1" height="2.1" rx="0.6" fill="#000"/>
<rect x="143.65" y="599.25" width="2.1" height="2.1" rx="0.6" fill="#000"/>
<rect x="141.55" y="602.05" width="2.1" height="2.1" rx="0.6" fill="#000"/>
<rect x="141.55" y="608.95" width="2.1" height="2.1" rx="0.6" fill="#000"/>
<rect x="139.75" y="611.35" width="2.1" height="2.1" rx="0.6" fill="#000"/>
<rect x="143.65" y="610.75" width="2.1" height="2.1" rx="0.6" fill="#000"/>
<rect x="141.65" y="613.85" width="2.1" height="2.1" rx="0.6" fill="#000"/>
<rect x="135.95" y="615.85" width="2.1" height="2.1" rx="0.6" fill="#000"/>
<rect x="139.75" y="615.55" width="2.1" height="2.1" rx="0.6" fill="#000"/>
<rect x="143.65" y="615.55" width="2.1" height="2.1" rx="0.6" fill="#000"/>
<rect x="147.55" y="615.75" width="2.1" height="2.1" rx="0.6" fill="#000"/>
<rect x="135.95" y="618.55" width="2.1" height="2.1" rx="0.6" fill="#000"/>
<rect x="139.75" y="617.85" width="2.1" height="2.1" rx="0.6" fill="#000"/>
<rect x="143.65" y="618.95" width="2.1" height="2.1" rx="0.6" fill="#000"/>
<rect x="147.35" y="618.95" width="2.1" height="2.1" rx="0.6" fill="#000"/>
<rect x="135.95" y="620.85" width="2.1" height="2.1" rx="0.6" fill="#000"/>
<rect x="161.85" y="556.25" width="2.1" height="2.1" rx="0.6" fill="#000"/>
<rect x="161.85" y="558.55" width="2.1" height="2.1" rx="0.6" fill="#000"/>
<rect x="161.85" y="570.05" width="2.1" height="2.1" rx="0.6" fill="#000"/>
<rect x="161.85" y="576.85" width="2.1" height="2.1" rx="0.6" fill="#000"/>
<rect x="161.85" y="584.05" width="2.1" height="2.1" rx="0.6" fill="#000"/>
<line x1="135.10" y1="616.40" x2="149.80" y2="616.40" stroke="#000" stroke-width="0.95" />
<line x1="155.70" y1="571.10" x2="169.90" y2="571.10" stroke="#000" stroke-width="0.95" />
<line x1="129.50" y1="541.90" x2="129.50" y2="624.80" stroke="#000" stroke-width="1" />
<line x1="129.00" y1="624.30" x2="177.00" y2="624.30" stroke="#000" stroke-width="1" />
<line x1="142.60" y1="624.30" x2="142.60" y2="628.30" stroke="#000" stroke-width="1" />
<line x1="163.00" y1="624.30" x2="163.00" y2="628.30" stroke="#000" stroke-width="1" />
<line x1="124.90" y1="542.60" x2="129.50" y2="542.60" stroke="#000" stroke-width="1" />
<text x="124.10" y="544.85" font-size="6.3" text-anchor="end" fill="#000" >250</text>
<line x1="124.90" y1="558.90" x2="129.50" y2="558.90" stroke="#000" stroke-width="1" />
<text x="124.10" y="561.15" font-size="6.3" text-anchor="end" fill="#000" >200</text>
<line x1="124.90" y1="575.10" x2="129.50" y2="575.10" stroke="#000" stroke-width="1" />
<text x="124.10" y="577.35" font-size="6.3" text-anchor="end" fill="#000" >150</text>
<line x1="124.90" y1="591.40" x2="129.50" y2="591.40" stroke="#000" stroke-width="1" />
<text x="124.10" y="593.65" font-size="6.3" text-anchor="end" fill="#000" >100</text>
<line x1="124.90" y1="608.00" x2="129.50" y2="608.00" stroke="#000" stroke-width="1" />
<text x="124.10" y="610.25" font-size="6.3" text-anchor="end" fill="#000" >50</text>
<line x1="124.90" y1="624.30" x2="129.50" y2="624.30" stroke="#000" stroke-width="1" />
<text x="124.10" y="626.55" font-size="6.3" text-anchor="end" fill="#000" >0</text>
<text x="152.70" y="537.00" font-size="9.2" text-anchor="middle" fill="#000" textLength="30.30" lengthAdjust="spacingAndGlyphs" >Afatinib</text>
<text x="133.40" y="545.20" font-size="7.3" text-anchor="start" fill="#000" textLength="33.50" lengthAdjust="spacingAndGlyphs" >p &lt; 0.0001</text>
<text x="144.30" y="633.20" font-size="9.7" text-anchor="end" fill="#000" textLength="45.30" lengthAdjust="spacingAndGlyphs" transform="rotate(-90 144.30 633.20)" >Near Loop</text>
<text x="165.50" y="633.20" font-size="9.7" text-anchor="end" fill="#000" textLength="39.00" lengthAdjust="spacingAndGlyphs" transform="rotate(-90 165.50 633.20)" >Far Loop</text>
<text x="106.50" y="583.60" font-size="9.6" text-anchor="middle" fill="#000" transform="rotate(-90 106.50 583.60)" >IC<tspan font-size="74%" dy="2.2">50</tspan><tspan dy="-2.2"> (nM)</tspan></text>
</g>
<g>
<rect x="225.55" y="603.25" width="2.1" height="2.1" rx="0.6" fill="#000"/>
<rect x="225.55" y="607.45" width="2.1" height="2.1" rx="0.6" fill="#000"/>
<rect x="221.95" y="611.05" width="2.1" height="2.1" rx="0.6" fill="#000"/>
<rect x="224.35" y="612.45" width="2.1" height="2.1" rx="0.6" fill="#000"/>
<rect x="226.75" y="612.85" width="2.1" height="2.1" rx="0.6" fill="#000"/>
<rect x="228.85" y="612.25" width="2.1" height="2.1" rx="0.6" fill="#000"/>
<rect x="226.45" y="614.55" width="2.1" height="2.1" rx="0.6" fill="#000"/>
<rect x="219.75" y="618.25" width="2.1" height="2.1" rx="0.6" fill="#000"/>
<rect x="221.95" y="618.45" width="2.1" height="2.1" rx="0.6" fill="#000"/>
<rect x="224.35" y="618.25" width="2.1" height="2.1" rx="0.6" fill="#000"/>
<rect x="226.75" y="618.25" width="2.1" height="2.1" rx="0.6" fill="#000"/>
<rect x="229.15" y="618.45" width="2.1" height="2.1" rx="0.6" fill="#000"/>
<rect x="231.25" y="617.95" width="2.1" height="2.1" rx="0.6" fill="#000"/>
<rect x="219.75" y="621.15" width="2.1" height="2.1" rx="0.6" fill="#000"/>
<rect x="222.55" y="620.65" width="2.1" height="2.1" rx="0.6" fill="#000"/>
<rect x="225.55" y="621.15" width="2.1" height="2.1" rx="0.6" fill="#000"/>
<rect x="228.55" y="620.65" width="2.1" height="2.1" rx="0.6" fill="#000"/>
<rect x="231.25" y="621.15" width="2.1" height="2.1" rx="0.6" fill="#000"/>
<rect x="243.15" y="560.15" width="2.1" height="2.1" rx="0.6" fill="#000"/>
<rect x="246.85" y="561.05" width="2.1" height="2.1" rx="0.6" fill="#000"/>
<rect x="244.95" y="573.25" width="2.1" height="2.1" rx="0.6" fill="#000"/>
<rect x="244.95" y="599.95" width="2.1" height="2.1" rx="0.6" fill="#000"/>
<rect x="244.95" y="604.15" width="2.1" height="2.1" rx="0.6" fill="#000"/>
<line x1="219.40" y1="618.00" x2="233.20" y2="618.00" stroke="#000" stroke-width="0.95" />
<line x1="239.40" y1="574.30" x2="252.90" y2="574.30" stroke="#000" stroke-width="0.95" />
<line x1="213.70" y1="542.80" x2="213.70" y2="624.60" stroke="#000" stroke-width="1" />
<line x1="213.20" y1="624.10" x2="260.30" y2="624.10" stroke="#000" stroke-width="1" />
<line x1="226.60" y1="624.10" x2="226.60" y2="628.10" stroke="#000" stroke-width="1" />
<line x1="246.10" y1="624.10" x2="246.10" y2="628.10" stroke="#000" stroke-width="1" />
<line x1="209.10" y1="543.50" x2="213.70" y2="543.50" stroke="#000" stroke-width="1" />
<text x="208.30" y="545.75" font-size="6.3" text-anchor="end" fill="#000" >1500</text>
<line x1="209.10" y1="570.30" x2="213.70" y2="570.30" stroke="#000" stroke-width="1" />
<text x="208.30" y="572.55" font-size="6.3" text-anchor="end" fill="#000" >1000</text>
<line x1="209.10" y1="597.00" x2="213.70" y2="597.00" stroke="#000" stroke-width="1" />
<text x="208.30" y="599.25" font-size="6.3" text-anchor="end" fill="#000" >500</text>
<line x1="209.10" y1="624.10" x2="213.70" y2="624.10" stroke="#000" stroke-width="1" />
<text x="208.30" y="626.35" font-size="6.3" text-anchor="end" fill="#000" >0</text>
<text x="236.20" y="538.30" font-size="9.2" text-anchor="middle" fill="#000" textLength="34.10" lengthAdjust="spacingAndGlyphs" >CLN-081</text>
<text x="217.80" y="546.30" font-size="7.3" text-anchor="start" fill="#000" textLength="32.60" lengthAdjust="spacingAndGlyphs" >p &lt; 0.0001</text>
<text x="227.50" y="633.00" font-size="9.7" text-anchor="end" fill="#000" textLength="45.30" lengthAdjust="spacingAndGlyphs" transform="rotate(-90 227.50 633.00)" >Near Loop</text>
<text x="248.90" y="633.00" font-size="9.7" text-anchor="end" fill="#000" textLength="39.00" lengthAdjust="spacingAndGlyphs" transform="rotate(-90 248.90 633.00)" >Far Loop</text>
<text x="187.80" y="583.60" font-size="9.6" text-anchor="middle" fill="#000" transform="rotate(-90 187.80 583.60)" >IC<tspan font-size="74%" dy="2.2">50</tspan><tspan dy="-2.2"> (nM)</tspan></text>
</g>
<g>
<rect x="304.55" y="581.65" width="2.1" height="2.1" rx="0.6" fill="#000"/>
<rect x="304.55" y="588.25" width="2.1" height="2.1" rx="0.6" fill="#000"/>
<rect x="300.95" y="591.05" width="2.1" height="2.1" rx="0.6" fill="#000"/>
<rect x="300.95" y="593.05" width="2.1" height="2.1" rx="0.6" fill="#000"/>
<rect x="304.55" y="592.05" width="2.1" height="2.1" rx="0.6" fill="#000"/>
<rect x="308.15" y="591.65" width="2.1" height="2.1" rx="0.6" fill="#000"/>
<rect x="300.95" y="596.65" width="2.1" height="2.1" rx="0.6" fill="#000"/>
<rect x="304.55" y="596.65" width="2.1" height="2.1" rx="0.6" fill="#000"/>
<rect x="308.15" y="596.05" width="2.1" height="2.1" rx="0.6" fill="#000"/>
<rect x="302.75" y="600.25" width="2.1" height="2.1" rx="0.6" fill="#000"/>
<rect x="306.65" y="600.25" width="2.1" height="2.1" rx="0.6" fill="#000"/>
<rect x="304.55" y="602.65" width="2.1" height="2.1" rx="0.6" fill="#000"/>
<rect x="304.55" y="605.35" width="2.1" height="2.1" rx="0.6" fill="#000"/>
<rect x="304.55" y="608.65" width="2.1" height="2.1" rx="0.6" fill="#000"/>
<rect x="304.55" y="610.75" width="2.1" height="2.1" rx="0.6" fill="#000"/>
<rect x="308.15" y="611.05" width="2.1" height="2.1" rx="0.6" fill="#000"/>
<rect x="300.95" y="612.45" width="2.1" height="2.1" rx="0.6" fill="#000"/>
<rect x="324.05" y="548.95" width="2.1" height="2.1" rx="0.6" fill="#000"/>
<rect x="326.05" y="562.55" width="2.1" height="2.1" rx="0.6" fill="#000"/>
<rect x="322.45" y="564.55" width="2.1" height="2.1" rx="0.6" fill="#000"/>
<rect x="324.05" y="578.05" width="2.1" height="2.1" rx="0.6" fill="#000"/>
<rect x="324.05" y="586.85" width="2.1" height="2.1" rx="0.6" fill="#000"/>
<line x1="298.60" y1="598.10" x2="312.50" y2="598.10" stroke="#000" stroke-width="0.95" />
<line x1="318.40" y1="565.60" x2="331.90" y2="565.60" stroke="#000" stroke-width="0.95" />
<line x1="293.00" y1="542.80" x2="293.00" y2="624.20" stroke="#000" stroke-width="1" />
<line x1="292.50" y1="623.70" x2="339.70" y2="623.70" stroke="#000" stroke-width="1" />
<line x1="305.60" y1="623.70" x2="305.60" y2="627.70" stroke="#000" stroke-width="1" />
<line x1="325.20" y1="623.70" x2="325.20" y2="627.70" stroke="#000" stroke-width="1" />
<line x1="288.40" y1="543.50" x2="293.00" y2="543.50" stroke="#000" stroke-width="1" />
<text x="287.60" y="545.75" font-size="6.3" text-anchor="end" fill="#000" >300</text>
<line x1="288.40" y1="570.30" x2="293.00" y2="570.30" stroke="#000" stroke-width="1" />
<text x="287.60" y="572.55" font-size="6.3" text-anchor="end" fill="#000" >200</text>
<line x1="288.40" y1="597.00" x2="293.00" y2="597.00" stroke="#000" stroke-width="1" />
<text x="287.60" y="599.25" font-size="6.3" text-anchor="end" fill="#000" >100</text>
<line x1="288.40" y1="623.70" x2="293.00" y2="623.70" stroke="#000" stroke-width="1" />
<text x="287.60" y="625.95" font-size="6.3" text-anchor="end" fill="#000" >0</text>
<text x="315.40" y="538.30" font-size="9.2" text-anchor="middle" fill="#000" textLength="43.80" lengthAdjust="spacingAndGlyphs" >Osimertinib</text>
<text x="296.90" y="545.70" font-size="7.3" text-anchor="start" fill="#000" textLength="32.90" lengthAdjust="spacingAndGlyphs" >p &lt; 0.0001</text>
<text x="307.20" y="633.00" font-size="9.7" text-anchor="end" fill="#000" textLength="45.30" lengthAdjust="spacingAndGlyphs" transform="rotate(-90 307.20 633.00)" >Near Loop</text>
<text x="327.90" y="633.00" font-size="9.7" text-anchor="end" fill="#000" textLength="39.00" lengthAdjust="spacingAndGlyphs" transform="rotate(-90 327.90 633.00)" >Far Loop</text>
<text x="271.00" y="583.90" font-size="9.6" text-anchor="middle" fill="#000" transform="rotate(-90 271.00 583.90)" >IC<tspan font-size="74%" dy="2.2">50</tspan><tspan dy="-2.2"> (nM)</tspan></text>
</g>
<g>
<rect x="384.25" y="557.15" width="2.1" height="2.1" rx="0.6" fill="#000"/>
<rect x="384.25" y="582.65" width="2.1" height="2.1" rx="0.6" fill="#000"/>
<rect x="380.65" y="588.05" width="2.1" height="2.1" rx="0.6" fill="#000"/>
<rect x="380.65" y="589.85" width="2.1" height="2.1" rx="0.6" fill="#000"/>
<rect x="384.25" y="589.45" width="2.1" height="2.1" rx="0.6" fill="#000"/>
<rect x="384.25" y="595.65" width="2.1" height="2.1" rx="0.6" fill="#000"/>
<rect x="380.65" y="596.85" width="2.1" height="2.1" rx="0.6" fill="#000"/>
<rect x="388.15" y="598.45" width="2.1" height="2.1" rx="0.6" fill="#000"/>
<rect x="384.25" y="600.25" width="2.1" height="2.1" rx="0.6" fill="#000"/>
<rect x="384.25" y="601.55" width="2.1" height="2.1" rx="0.6" fill="#000"/>
<rect x="388.15" y="602.65" width="2.1" height="2.1" rx="0.6" fill="#000"/>
<rect x="384.25" y="604.75" width="2.1" height="2.1" rx="0.6" fill="#000"/>
<rect x="388.15" y="605.95" width="2.1" height="2.1" rx="0.6" fill="#000"/>
<rect x="380.65" y="608.05" width="2.1" height="2.1" rx="0.6" fill="#000"/>
<rect x="388.15" y="608.65" width="2.1" height="2.1" rx="0.6" fill="#000"/>
<rect x="384.25" y="609.85" width="2.1" height="2.1" rx="0.6" fill="#000"/>
<rect x="384.25" y="613.75" width="2.1" height="2.1" rx="0.6" fill="#000"/>
<rect x="403.65" y="554.75" width="2.1" height="2.1" rx="0.6" fill="#000"/>
<rect x="403.65" y="568.15" width="2.1" height="2.1" rx="0.6" fill="#000"/>
<rect x="402.15" y="574.75" width="2.1" height="2.1" rx="0.6" fill="#000"/>
<rect x="405.45" y="575.35" width="2.1" height="2.1" rx="0.6" fill="#000"/>
<rect x="403.65" y="588.05" width="2.1" height="2.1" rx="0.6" fill="#000"/>
<line x1="378.40" y1="601.30" x2="392.20" y2="601.30" stroke="#000" stroke-width="0.95" />
<line x1="398.10" y1="575.80" x2="411.90" y2="575.80" stroke="#000" stroke-width="0.95" />
<line x1="372.60" y1="542.80" x2="372.60" y2="624.20" stroke="#000" stroke-width="1" />
<line x1="372.10" y1="623.70" x2="419.10" y2="623.70" stroke="#000" stroke-width="1" />
<line x1="385.30" y1="623.70" x2="385.30" y2="627.70" stroke="#000" stroke-width="1" />
<line x1="404.90" y1="623.70" x2="404.90" y2="627.70" stroke="#000" stroke-width="1" />
<line x1="368.00" y1="543.50" x2="372.60" y2="543.50" stroke="#000" stroke-width="1" />
<text x="367.20" y="545.75" font-size="6.3" text-anchor="end" fill="#000" >20</text>
<line x1="368.00" y1="563.40" x2="372.60" y2="563.40" stroke="#000" stroke-width="1" />
<text x="367.20" y="565.65" font-size="6.3" text-anchor="end" fill="#000" >15</text>
<line x1="368.00" y1="583.40" x2="372.60" y2="583.40" stroke="#000" stroke-width="1" />
<text x="367.20" y="585.65" font-size="6.3" text-anchor="end" fill="#000" >10</text>
<line x1="368.00" y1="603.60" x2="372.60" y2="603.60" stroke="#000" stroke-width="1" />
<text x="367.20" y="605.85" font-size="6.3" text-anchor="end" fill="#000" >5</text>
<line x1="368.00" y1="623.70" x2="372.60" y2="623.70" stroke="#000" stroke-width="1" />
<text x="367.20" y="625.95" font-size="6.3" text-anchor="end" fill="#000" >0</text>
<text x="395.90" y="538.30" font-size="9.2" text-anchor="middle" fill="#000" textLength="39.10" lengthAdjust="spacingAndGlyphs" >Tarlox-TKI</text>
<text x="376.90" y="545.70" font-size="7.3" text-anchor="start" fill="#000" textLength="32.90" lengthAdjust="spacingAndGlyphs" >p = 0.0012</text>
<text x="387.00" y="633.00" font-size="9.7" text-anchor="end" fill="#000" textLength="45.30" lengthAdjust="spacingAndGlyphs" transform="rotate(-90 387.00 633.00)" >Near Loop</text>
<text x="407.90" y="633.00" font-size="9.7" text-anchor="end" fill="#000" textLength="39.00" lengthAdjust="spacingAndGlyphs" transform="rotate(-90 407.90 633.00)" >Far Loop</text>
<text x="355.00" y="583.00" font-size="9.6" text-anchor="middle" fill="#000" transform="rotate(-90 355.00 583.00)" >IC<tspan font-size="74%" dy="2.2">50</tspan><tspan dy="-2.2"> (nM)</tspan></text>
</g>
<g>
<rect x="466.25" y="595.65" width="2.1" height="2.1" rx="0.6" fill="#000"/>
<rect x="466.25" y="597.65" width="2.1" height="2.1" rx="0.6" fill="#000"/>
<rect x="463.55" y="601.75" width="2.1" height="2.1" rx="0.6" fill="#000"/>
<rect x="469.15" y="602.25" width="2.1" height="2.1" rx="0.6" fill="#000"/>
<rect x="466.25" y="603.25" width="2.1" height="2.1" rx="0.6" fill="#000"/>
<rect x="463.75" y="604.95" width="2.1" height="2.1" rx="0.6" fill="#000"/>
<rect x="460.75" y="606.25" width="2.1" height="2.1" rx="0.6" fill="#000"/>
<rect x="462.95" y="605.95" width="2.1" height="2.1" rx="0.6" fill="#000"/>
<rect x="465.05" y="606.85" width="2.1" height="2.1" rx="0.6" fill="#000"/>
<rect x="467.75" y="606.85" width="2.1" height="2.1" rx="0.6" fill="#000"/>
<rect x="470.15" y="606.85" width="2.1" height="2.1" rx="0.6" fill="#000"/>
<rect x="472.25" y="606.45" width="2.1" height="2.1" rx="0.6" fill="#000"/>
<rect x="466.25" y="609.55" width="2.1" height="2.1" rx="0.6" fill="#000"/>
<rect x="466.25" y="611.65" width="2.1" height="2.1" rx="0.6" fill="#000"/>
<rect x="466.25" y="613.75" width="2.1" height="2.1" rx="0.6" fill="#000"/>
<rect x="466.25" y="618.45" width="2.1" height="2.1" rx="0.6" fill="#000"/>
<rect x="466.25" y="608.15" width="2.1" height="2.1" rx="0.6" fill="#000"/>
<rect x="486.85" y="551.95" width="2.1" height="2.1" rx="0.6" fill="#000"/>
<rect x="486.85" y="576.25" width="2.1" height="2.1" rx="0.6" fill="#000"/>
<rect x="486.85" y="584.35" width="2.1" height="2.1" rx="0.6" fill="#000"/>
<rect x="486.85" y="590.05" width="2.1" height="2.1" rx="0.6" fill="#000"/>
<rect x="486.85" y="607.65" width="2.1" height="2.1" rx="0.6" fill="#000"/>
<line x1="460.10" y1="607.90" x2="474.50" y2="607.90" stroke="#000" stroke-width="0.95" />
<line x1="481.10" y1="585.40" x2="495.10" y2="585.40" stroke="#000" stroke-width="0.95" />
<line x1="453.90" y1="541.50" x2="453.90" y2="624.00" stroke="#000" stroke-width="1" />
<line x1="453.40" y1="623.50" x2="502.50" y2="623.50" stroke="#000" stroke-width="1" />
<line x1="467.60" y1="623.50" x2="467.60" y2="627.50" stroke="#000" stroke-width="1" />
<line x1="488.20" y1="623.50" x2="488.20" y2="627.50" stroke="#000" stroke-width="1" />
<line x1="449.30" y1="542.40" x2="453.90" y2="542.40" stroke="#000" stroke-width="1" />
<text x="448.50" y="544.65" font-size="6.3" text-anchor="end" fill="#000" >10</text>
<line x1="449.30" y1="558.50" x2="453.90" y2="558.50" stroke="#000" stroke-width="1" />
<text x="448.50" y="560.75" font-size="6.3" text-anchor="end" fill="#000" >8</text>
<line x1="449.30" y1="574.70" x2="453.90" y2="574.70" stroke="#000" stroke-width="1" />
<text x="448.50" y="576.95" font-size="6.3" text-anchor="end" fill="#000" >6</text>
<line x1="449.30" y1="590.90" x2="453.90" y2="590.90" stroke="#000" stroke-width="1" />
<text x="448.50" y="593.15" font-size="6.3" text-anchor="end" fill="#000" >4</text>
<line x1="449.30" y1="607.30" x2="453.90" y2="607.30" stroke="#000" stroke-width="1" />
<text x="448.50" y="609.55" font-size="6.3" text-anchor="end" fill="#000" >2</text>
<line x1="449.30" y1="623.50" x2="453.90" y2="623.50" stroke="#000" stroke-width="1" />
<text x="448.50" y="625.75" font-size="6.3" text-anchor="end" fill="#000" >0</text>
<text x="478.00" y="537.00" font-size="9.2" text-anchor="middle" fill="#000" textLength="39.60" lengthAdjust="spacingAndGlyphs" >Poziotinib</text>
<text x="461.00" y="544.80" font-size="7.3" text-anchor="start" fill="#000" textLength="35.00" lengthAdjust="spacingAndGlyphs" >p = 0.0004</text>
<text x="469.40" y="633.00" font-size="9.7" text-anchor="end" fill="#000" textLength="45.30" lengthAdjust="spacingAndGlyphs" transform="rotate(-90 469.40 633.00)" >Near Loop</text>
<text x="490.50" y="633.00" font-size="9.7" text-anchor="end" fill="#000" textLength="39.00" lengthAdjust="spacingAndGlyphs" transform="rotate(-90 490.50 633.00)" >Far Loop</text>
<text x="435.20" y="583.00" font-size="9.6" text-anchor="middle" fill="#000" transform="rotate(-90 435.20 583.00)" >IC<tspan font-size="74%" dy="2.2">50</tspan><tspan dy="-2.2"> (nM)</tspan></text>
</g>
<text x="-0.60" y="536.40" font-size="17.2" text-anchor="start" fill="#000" font-weight="bold" >g</text>
</svg>
</body></html>
